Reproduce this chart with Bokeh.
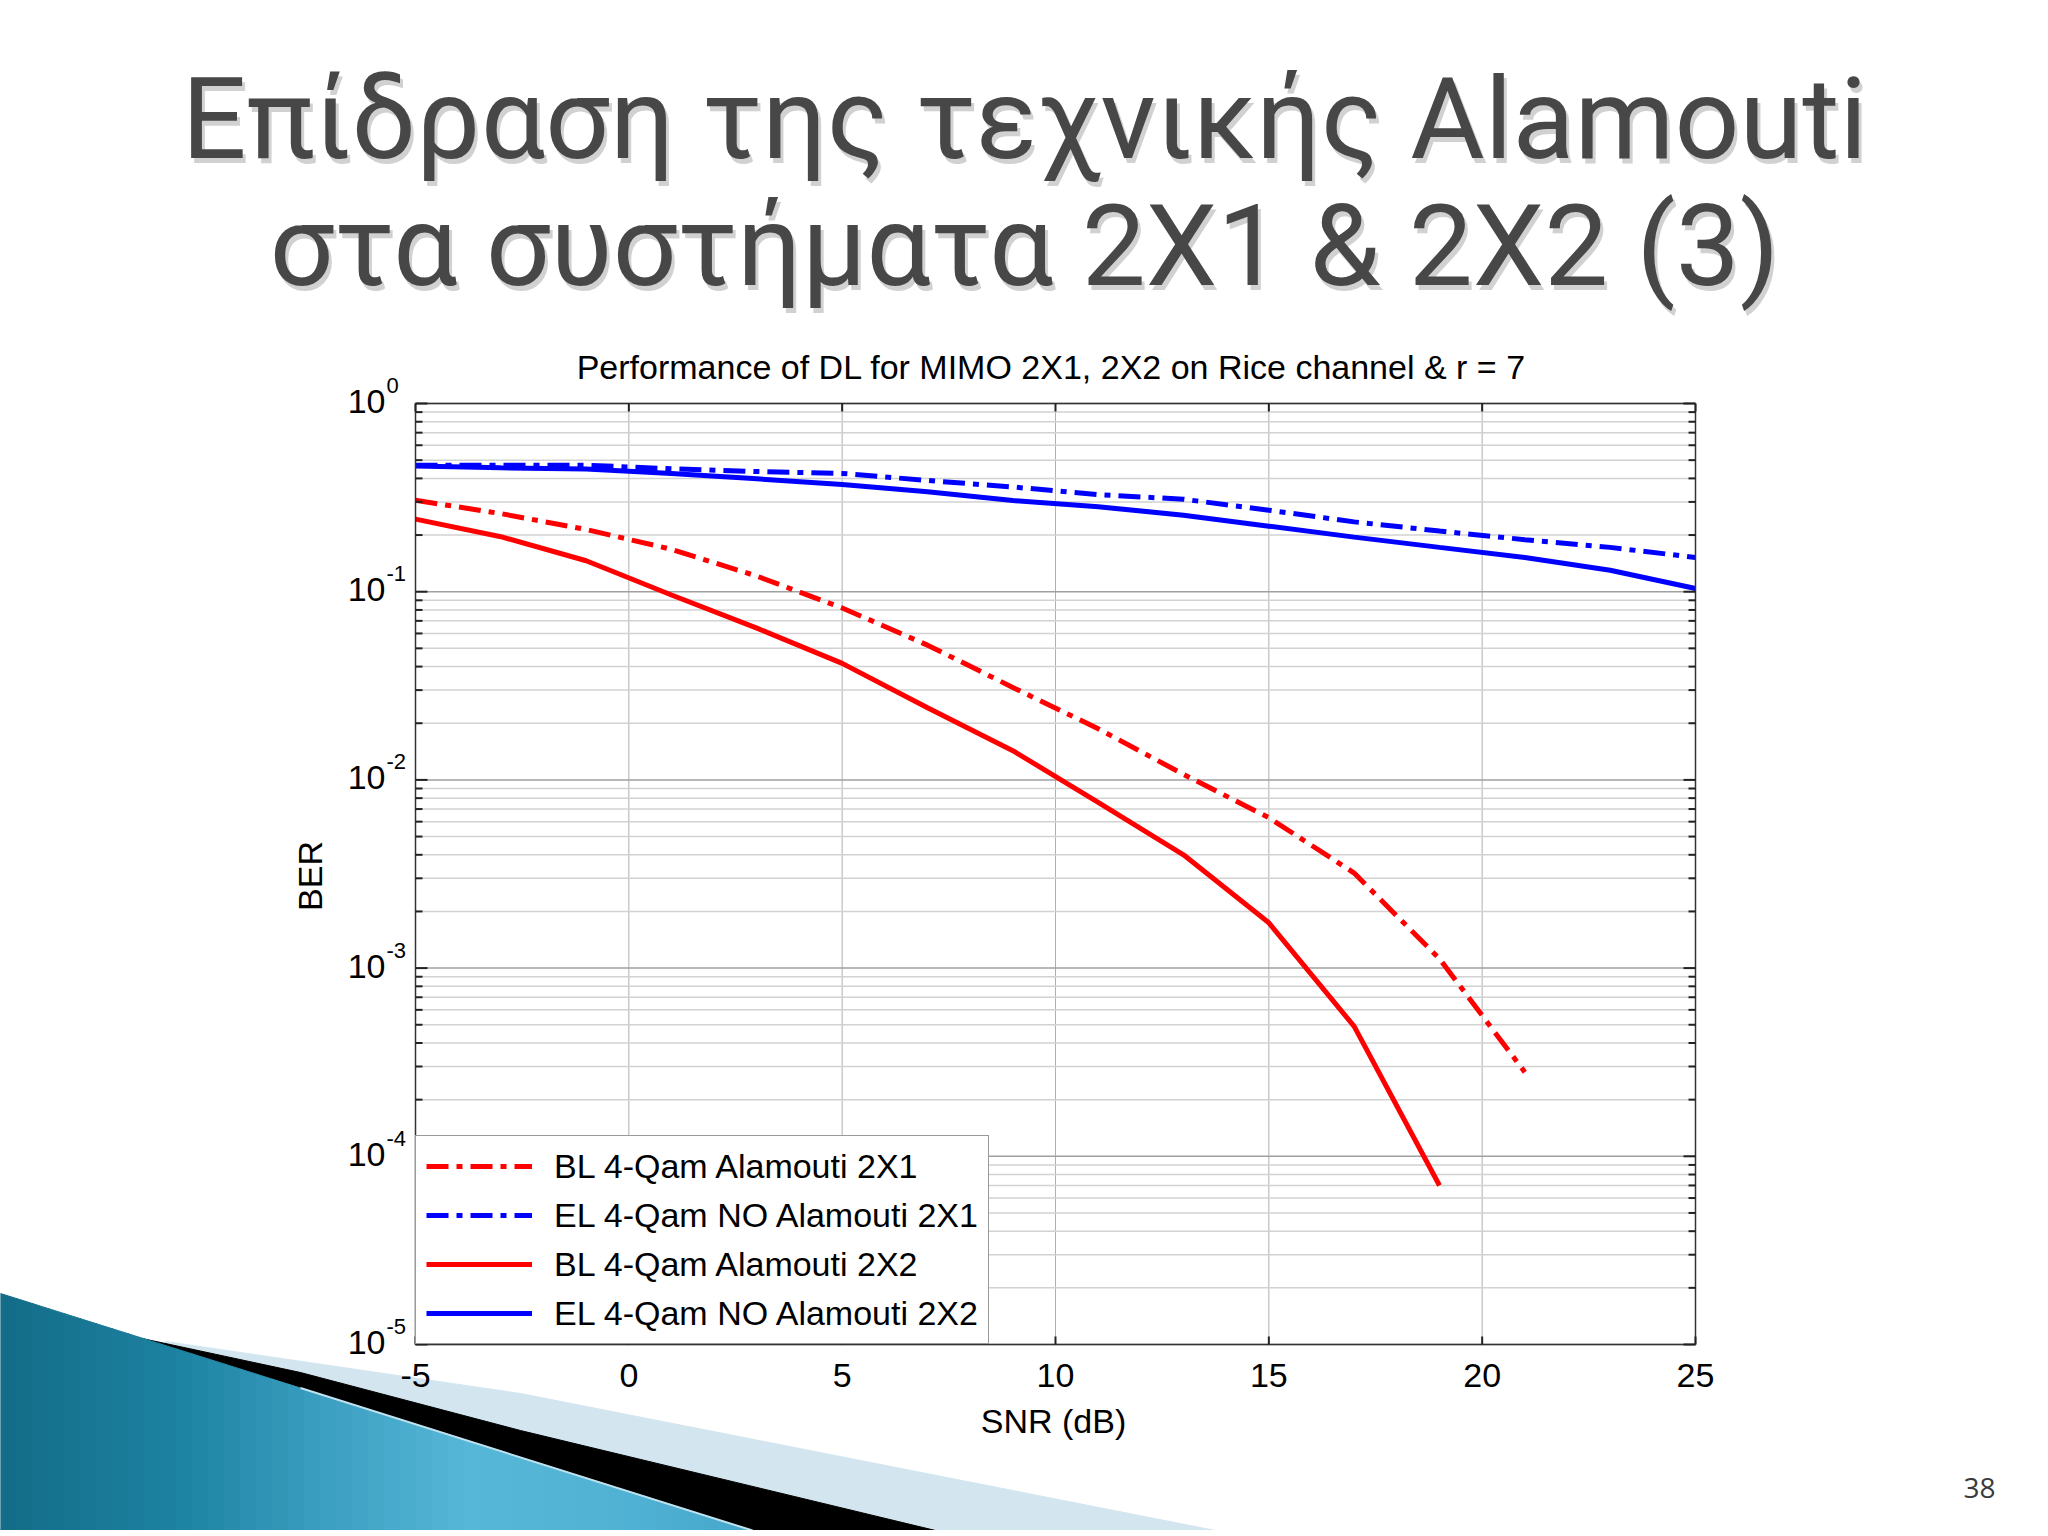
import math
from bokeh.plotting import figure
from bokeh.models import Range1d, LogScale, Legend, LegendItem
from bokeh.core.properties import value
from bokeh.embed import file_html
from bokeh.resources import INLINE

# ---------------- data ----------------
snr_bl_2x1 = [-5, -3, -1, 1, 3, 5, 7, 9, 11, 13, 15, 17, 19, 21]
ber_bl_2x1 = [0.306, 0.26, 0.214, 0.168, 0.121, 0.082, 0.052, 0.031, 0.0187, 0.0107, 0.0063, 0.0032, 0.00112, 0.00028]

snr_el_2x1 = [-5, -3, -1, 1, 3, 5, 7, 9, 11, 13, 15, 17, 19, 21, 23, 25]
ber_el_2x1 = [0.47, 0.47, 0.47, 0.45, 0.435, 0.425, 0.39, 0.36, 0.328, 0.31, 0.271, 0.235, 0.21, 0.189, 0.172, 0.152]

snr_bl_2x2 = [-5, -3, -1, 1, 3, 5, 7, 9, 11, 13, 15, 17, 19]
ber_bl_2x2 = [0.243, 0.196, 0.146, 0.096, 0.064, 0.0416, 0.0242, 0.0143, 0.0076, 0.0040, 0.00174, 0.00049, 0.00007]

snr_el_2x2 = [-5, -3, -1, 1, 3, 5, 7, 9, 11, 13, 15, 17, 19, 21, 23, 25]
ber_el_2x2 = [0.466, 0.455, 0.449, 0.425, 0.398, 0.371, 0.34, 0.305, 0.283, 0.255, 0.223, 0.195, 0.172, 0.152, 0.130, 0.104]

series_labels = ["BL 4-Qam Alamouti 2X1", "EL 4-Qam NO Alamouti 2X1",
                 "BL 4-Qam Alamouti 2X2", "EL 4-Qam NO Alamouti 2X2"]

x_ticks = [-5, 0, 5, 10, 15, 20, 25]
x_tick_labels = ["-5", "0", "5", "10", "15", "20", "25"]
y_exponents = [-5, -4, -3, -2, -1, 0]
y_ticks = [10.0 ** e for e in y_exponents]
y_minor = [m * 10.0 ** e for e in y_exponents[:-1] for m in range(2, 10)]

slide_title = ["Επίδραση της τεχνικής Alamouti", "στα συστήματα 2X1 & 2X2 (3)"]
chart_title = "Performance of DL for MIMO 2X1, 2X2 on Rice channel & r = 7"
x_label = "SNR (dB)"
y_label = "BER"
page_number = "38"

# ---------------- page geometry (pixels) ----------------
W, H = 2040, 1530
FL, FT, FR, FB = 415, 403, 1695, 1344      # chart box edges on the page
FONT = value("Liberation Sans")
FS = value("34px")

x_min, x_max = x_ticks[0], x_ticks[-1]
y_min, y_max = y_ticks[0], y_ticks[-1]
k = (FR - FL) / (x_max - x_min)                         # px per dB
d = (FB - FT) / (math.log10(y_max) - math.log10(y_min))  # px per decade

p = figure(width=W, height=H, x_range=Range1d(0, W), y_range=Range1d(H, 0),
           x_axis_type=None, y_axis_type=None, output_backend="svg", toolbar_location=None,
           min_border=0)
p.outline_line_color = None
p.background_fill_color = "white"
p.border_fill_color = "white"

# chart coordinate system (SNR linear, BER log) mapped onto the chart box
p.extra_x_ranges = {"snr": Range1d(x_min - FL / k, x_max + (W - FR) / k)}
p.extra_y_ranges = {"ber": Range1d(10 ** (math.log10(y_min) - (H - FB) / d),
                                   10 ** (math.log10(y_max) + FT / d))}
p.extra_y_scales = {"ber": LogScale()}
C = dict(x_range_name="snr", y_range_name="ber")

# ---------------- slide decoration (bottom-left) ----------------
p.patch([165, 520, 860, 1215, 0], [1341, 1393, 1460, H, H], color="#d3e6ef")
p.patch([95, 300, 520, 935, 0], [1328, 1372, 1430, H, H], color="#000000")


def teal_top(x):
    return 1293 + (H - 1293) * x / 752.0


stops = [(0, (0x13, 0x6c, 0x87)), (180, (0x1d, 0x83, 0xa2)), (330, (0x3c, 0xa0, 0xc2)),
         (470, (0x57, 0xb7, 0xd8)), (600, (0x52, 0xb3, 0xd5)), (752, (0x45, 0xa8, 0xcc))]


def teal_color(x):
    for (x0, c0), (x1, c1) in zip(stops[:-1], stops[1:]):
        if x0 <= x <= x1:
            t = (x - x0) / (x1 - x0)
            return "#%02x%02x%02x" % tuple(int(round(a + (b - a) * t)) for a, b in zip(c0, c1))
    return "#%02x%02x%02x" % stops[-1][1]


step = 752 / 47
for i in range(47):
    a, b = i * step, (i + 1) * step
    p.patch([a, b + 0.8, b + 0.8, a], [teal_top(a), teal_top(b + 0.8), H, H],
            color=teal_color((a + b) / 2))
p.line([300, 752], [teal_top(300), teal_top(752)], line_color="#bfe2ee", line_width=2)

# ---------------- grid ----------------
nx, ny, nm = len(x_ticks), len(y_ticks), len(y_minor)
p.segment(x0=x_ticks, y0=[y_min] * nx, x1=x_ticks, y1=[y_max] * nx,
          line_color="#b0b0b0", line_width=1, **C)
p.segment(x0=[x_min] * nm, y0=y_minor, x1=[x_max] * nm, y1=y_minor,
          line_color="#d2d2d2", line_width=1.5, **C)
p.segment(x0=[x_min] * ny, y0=y_ticks, x1=[x_max] * ny, y1=y_ticks,
          line_color="#a0a0a0", line_width=1.5, **C)

# ---------------- curves ----------------
DASHDOT = "22 8 6 8"
r1 = p.line(snr_bl_2x1, ber_bl_2x1, line_color="#ff0000", line_width=5, line_dash=DASHDOT, **C)
r2 = p.line(snr_el_2x1, ber_el_2x1, line_color="#0000ff", line_width=5, line_dash=DASHDOT, **C)
r3 = p.line(snr_bl_2x2, ber_bl_2x2, line_color="#ff0000", line_width=5, **C)
r4 = p.line(snr_el_2x2, ber_el_2x2, line_color="#0000ff", line_width=5, **C)

# ---------------- axes box, ticks and tick labels ----------------
AX = dict(line_color="#333333", line_width=1.5)
p.segment(x0=[x_min, x_min, x_min, x_max], y0=[y_min, y_max, y_min, y_min],
          x1=[x_max, x_max, x_min, x_max], y1=[y_min, y_max, y_max, y_max], **AX, **C)

TK = dict(line_color="#222222", line_width=2)
maj_len, min_len, xt_len = 12 / k, 7 / k, 8 / d
p.segment(x0=[x_min] * ny, y0=y_ticks, x1=[x_min + maj_len] * ny, y1=y_ticks, **TK, **C)
p.segment(x0=[x_max] * ny, y0=y_ticks, x1=[x_max - maj_len] * ny, y1=y_ticks, **TK, **C)
p.segment(x0=[x_min] * nm, y0=y_minor, x1=[x_min + min_len] * nm, y1=y_minor, **TK, **C)
p.segment(x0=[x_max] * nm, y0=y_minor, x1=[x_max - min_len] * nm, y1=y_minor, **TK, **C)
p.segment(x0=x_ticks, y0=[y_min] * nx, x1=x_ticks, y1=[y_min * 10 ** xt_len] * nx, **TK, **C)
p.segment(x0=x_ticks, y0=[y_max] * nx, x1=x_ticks, y1=[y_max / 10 ** xt_len] * nx, **TK, **C)

p.text(x=x_ticks, y=[y_min] * nx, text=x_tick_labels, text_font=FONT, text_font_size=FS,
       text_color="black", text_align="center", text_baseline="middle", y_offset=31, **C)
p.text(x=[x_min] * ny, y=y_ticks, text=["10"] * ny, text_font=FONT, text_font_size=FS,
       text_color="black", text_align="right", text_baseline="middle",
       x_offset=-30, y_offset=-2, **C)
p.text(x=[x_min] * ny, y=y_ticks, text=[str(e) for e in y_exponents], text_font=FONT,
       text_font_size=value("22px"), text_color="black", text_align="left",
       text_baseline="middle", x_offset=-29, y_offset=-18, **C)

# axis labels and chart title (page pixel coordinates)
p.text(x=[1053], y=[1420], text=[x_label], text_font=FONT, text_font_size=FS,
       text_color="black", text_align="center", text_baseline="middle")
p.text(x=[309], y=[(FT + FB) / 2 + 2], text=[y_label], text_font=FONT, text_font_size=FS,
       text_color="black", text_align="center", text_baseline="middle", angle=math.pi / 2)
p.text(x=[1051], y=[366], text=[chart_title], text_font=FONT, text_font_size=FS,
       text_color="black", text_align="center", text_baseline="middle")

# ---------------- legend ----------------
legend = Legend(items=[LegendItem(label=l, renderers=[r]) for l, r in zip(series_labels, [r1, r2, r3, r4])],
                location=(FL, H - FB), margin=0, padding=10, spacing=9,
                glyph_width=106, glyph_height=40, label_height=40, label_standoff=22,
                label_text_font="Liberation Sans", label_text_font_size="34px", label_text_color="black",
                border_line_color="#333333", border_line_width=1.5,
                background_fill_color="white", background_fill_alpha=1)
p.add_layout(legend)

# ---------------- slide title and page number ----------------
st_x = [1024, 1024]
st_y = [118, 245]
p.text(x=[v + 3 for v in st_x], y=[v + 5 for v in st_y], text=slide_title, text_font=value("Roboto"),
       text_font_size=value("114px"), text_color="#9a9a9a", text_alpha=0.45,
       text_align="center", text_baseline="middle")
p.text(x=st_x, y=st_y, text=slide_title, text_font=value("Roboto"),
       text_font_size=value("114px"), text_color="#474747",
       text_align="center", text_baseline="middle")
p.text(x=[1979], y=[1487], text=[page_number], text_font=value("Open Sans"),
       text_font_size=value("28px"), text_color="#3a3a3a", text_align="center", text_baseline="middle")

open("out.html", "w").write(file_html(p, INLINE))
